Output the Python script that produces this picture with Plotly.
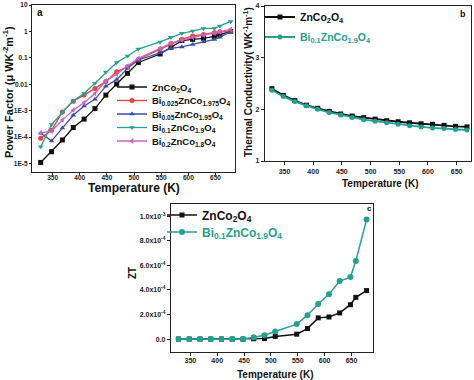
import plotly.graph_objects as go

W, H = 474, 380

# ---------------- data ----------------
T_pf = [328, 348, 368, 388, 408, 428, 448, 468, 488, 508, 548, 568, 588, 608, 628, 648, 658, 678]
pf_zco = [1.1e-5, 2.8e-5, 7.8e-5, 2.3e-4, 4.8e-4, 1.2e-3, 3.9e-3, 0.0102, 0.026, 0.067,
          0.14, 0.25, 0.45, 0.5, 0.55, 0.65, 0.75, 1.0]
pf_bi0025 = [9e-5, 1.8e-4, 9e-4, 2.3e-3, 3.9e-3, 6.9e-3, 0.0126, 0.03, 0.046, 0.087,
             0.21, 0.35, 0.51, 0.67, 0.77, 0.89, 0.97, 1.0]
pf_bi005 = [1.4e-4, 7.2e-5, 2.2e-4, 6.7e-4, 1.5e-3, 2.7e-3, 8.5e-3, 0.015, 0.04, 0.083,
            0.155, 0.23, 0.26, 0.32, 0.41, 0.5, 0.6, 1.0]
pf_bi01 = [4.3e-5, 3e-4, 8.5e-4, 2.4e-3, 4.5e-3, 0.011, 0.029, 0.066, 0.118, 0.215,
           0.4, 0.6, 0.85, 1.03, 1.3, 1.3, 1.6, 2.4]
pf_bi02 = [1.45e-4, 1.7e-4, 4.4e-4, 1.05e-3, 2e-3, 4.5e-3, 0.0135, 0.024, 0.049, 0.095,
           0.23, 0.35, 0.47, 0.6, 0.73, 0.86, 0.98, 1.2]

T_k = [328, 348, 368, 388, 408, 428, 448, 468, 488, 508, 528, 548, 568, 588, 608, 628, 648, 668]
k_zco = [2.40, 2.27, 2.17, 2.08, 2.02, 1.96, 1.91, 1.87, 1.84, 1.81, 1.78, 1.76, 1.74, 1.72, 1.71, 1.69, 1.67, 1.66]
k_bi01 = [2.37, 2.25, 2.15, 2.07, 2.00, 1.94, 1.89, 1.84, 1.80, 1.77, 1.74, 1.71, 1.68, 1.66, 1.64, 1.63, 1.61, 1.60]

T_zt = T_pf
zt_zco = [0, 0, 0, 0, 0, 0, 0, 0.3e-5, 0.5e-5, 2.2e-5, 4e-5, 8.6e-5, 1.73e-4, 1.8e-4, 2.13e-4, 2.8e-4, 3.4e-4, 3.95e-4]
zt_bi01 = [0, 0, 0, 0, 0, 0, 0, 1.6e-5, 3.2e-5, 6.2e-5, 1.22e-4, 1.95e-4, 2.86e-4, 3.65e-4, 4.73e-4, 5.05e-4, 6.35e-4, 9.73e-4]

x_ticks = [350, 400, 450, 500, 550, 600, 650]
pf_tickvals = [1e-5, 1e-4, 1e-3, 1e-2, 1e-1, 1, 10]
pf_ticktext = ["1E-5", "1E-4", "1E-3", "0.01", "0.1", "1", "10"]
k_tickvals = [1, 2, 3, 4]
zt_tickvals = [0, 2e-4, 4e-4, 6e-4, 8e-4, 1e-3]
zt_ticktext = ["0.0", "2.0x10<sup>-4</sup>", "4.0x10<sup>-4</sup>", "6.0x10<sup>-4</sup>",
               "8.0x10<sup>-4</sup>", "1.0x10<sup>-3</sup>"]

BLACK = "#111111"
RED = "#e8403c"
BLUE = "#3a4fa8"
TEAL = "#24a090"
PURPLE = "#c763c4"

FONT = "Liberation Sans, Arial, sans-serif"


def px_x(a, b):
    return [a / W, b / W]


def px_y(top, bottom):
    return [1 - bottom / H, 1 - top / H]


def legend_at(xpx, ypx, size):
    return dict(x=xpx / W, y=1 - ypx / H, xanchor="left", yanchor="middle",
                bgcolor="rgba(0,0,0,0)", borderwidth=0, itemwidth=30,
                font=dict(family=FONT, size=size, color="#111", weight="bold"))


def label(text, xpx, ypx, size, angle=0):
    return dict(text=text, x=xpx / W, y=1 - ypx / H, xref="paper", yref="paper",
                xanchor="center", yanchor="middle", showarrow=False, textangle=angle,
                font=dict(family=FONT, size=size, color="#111", weight="bold"))


fig = go.Figure()

# ---------------- panel a ----------------
series_a = [
    ("ZnCo<sub>2</sub>O<sub>4</sub>", pf_zco, BLACK, "square", "legend"),
    ("Bi<sub>0.025</sub>ZnCo<sub>1.975</sub>O<sub>4</sub>", pf_bi0025, RED, "circle", "legend4"),
    ("Bi<sub>0.05</sub>ZnCo<sub>1.95</sub>O<sub>4</sub>", pf_bi005, BLUE, "triangle-up", "legend5"),
    ("Bi<sub>0.1</sub>ZnCo<sub>1.9</sub>O<sub>4</sub>", pf_bi01, TEAL, "triangle-down", "legend6"),
    ("Bi<sub>0.2</sub>ZnCo<sub>1.8</sub>O<sub>4</sub>", pf_bi02, PURPLE, "triangle-left", "legend7"),
]
for name, ys, col, sym, leg in series_a:
    fig.add_trace(go.Scatter(x=T_pf, y=ys, name=name, mode="lines+markers",
                             line=dict(color=col, width=1.3),
                             marker=dict(symbol=sym, size=5, color=col),
                             xaxis="x", yaxis="y", legend=leg))

# ---------------- panel b ----------------
fig.add_trace(go.Scatter(x=T_k, y=k_zco, name="ZnCo<sub>2</sub>O<sub>4</sub>", mode="lines+markers",
                         line=dict(color=BLACK, width=1.8),
                         marker=dict(symbol="square", size=5, color=BLACK),
                         xaxis="x2", yaxis="y2", legend="legend2"))
fig.add_trace(go.Scatter(x=T_k, y=k_bi01,
                         name="<span style='color:%s'>Bi<sub>0.1</sub>ZnCo<sub>1.9</sub>O<sub>4</sub></span>" % TEAL,
                         mode="lines+markers",
                         line=dict(color=TEAL, width=1.8),
                         marker=dict(symbol="circle", size=5, color=TEAL),
                         xaxis="x2", yaxis="y2", legend="legend8"))

# ---------------- panel c ----------------
fig.add_trace(go.Scatter(x=T_zt, y=zt_zco, name="ZnCo<sub>2</sub>O<sub>4</sub>", mode="lines+markers",
                         line=dict(color=BLACK, width=1.5),
                         marker=dict(symbol="square", size=5, color=BLACK),
                         xaxis="x3", yaxis="y3", legend="legend3"))
fig.add_trace(go.Scatter(x=T_zt, y=zt_bi01,
                         name="<span style='color:%s'>Bi<sub>0.1</sub>ZnCo<sub>1.9</sub>O<sub>4</sub></span>" % TEAL,
                         mode="lines+markers",
                         line=dict(color=TEAL, width=1.5),
                         marker=dict(symbol="circle", size=6, color=TEAL),
                         xaxis="x3", yaxis="y3", legend="legend9"))

axis_common = dict(showline=True, linecolor="#222", linewidth=1.3, mirror=True,
                   ticks="outside", ticklen=3, tickwidth=1, tickcolor="#222",
                   showgrid=False, zeroline=False, automargin=False,
                   tickfont=dict(family=FONT, size=7, color="#222", weight="bold"))
axis_a = dict(axis_common, ticklen=2,
              tickfont=dict(family=FONT, size=6.5, color="#222", weight="bold"))

fig.update_layout(
    template="none",
    width=W, height=H,
    margin=dict(l=0, r=0, t=0, b=0, autoexpand=False),
    paper_bgcolor="white", plot_bgcolor="white",
    font=dict(family=FONT, color="#111"),
    xaxis=dict(domain=px_x(32, 235), range=[312, 686], tickvals=x_ticks, anchor="y",
               ticklabelstandoff=-3, **axis_a),
    yaxis=dict(domain=px_y(5, 172), type="log", range=[-5.32, 1], tickvals=pf_tickvals,
               ticktext=pf_ticktext, anchor="x", **axis_a),
    xaxis2=dict(domain=px_x(265, 471), range=[316, 675], tickvals=x_ticks, anchor="y2", **axis_common),
    yaxis2=dict(domain=px_y(6, 161), range=[1, 4], tickvals=k_tickvals, anchor="x2", **axis_common),
    xaxis3=dict(domain=px_x(171, 373), range=[314, 690], tickvals=x_ticks, anchor="y3",
                ticklabelstandoff=-2, **axis_common),
    yaxis3=dict(domain=px_y(204, 352), range=[-1.05e-4, 1.1e-3], tickvals=zt_tickvals,
                ticktext=zt_ticktext, anchor="x3", **axis_common),
    legend=legend_at(112, 87, 9.5),
    legend4=legend_at(112, 100.5, 9.5),
    legend5=legend_at(112, 114, 9.5),
    legend6=legend_at(112, 127.5, 9.5),
    legend7=legend_at(112, 141, 9.5),
    legend2=legend_at(260, 17, 10.5),
    legend8=legend_at(260, 37, 10.5),
    legend3=legend_at(162, 215, 12),
    legend9=legend_at(162, 232, 12),
    showlegend=True,
)

annotations = [
    label("Temperature (K)", 134, 188, 12),
    label("Power Factor (\u03bc WK<sup>-2</sup>m<sup>-1</sup>)", 8, 92, 11, -90),
    label("Temperature (K)", 380, 183, 10),
    label("Thermal Conductivity( WK<sup>-1</sup>m<sup>-1</sup>)", 248, 82, 10, -90),
    label("Temperature (K)", 275, 374, 10),
    label("ZT", 132, 273, 10, -90),
    label("a", 40, 13, 10),
    label("b", 463, 14, 9),
    label("c", 369, 208, 8),
]
fig.update_layout(annotations=annotations)

fig.write_html("out.html", config={"displayModeBar": False})

# remove the browser's default 8px page margin so the figure sits at the window's corner
with open("out.html", "r", encoding="utf-8") as f:
    html = f.read()
html = html.replace("<body>", "<body style=\"margin:0;overflow:hidden\">", 1)
with open("out.html", "w", encoding="utf-8") as f:
    f.write(html)
